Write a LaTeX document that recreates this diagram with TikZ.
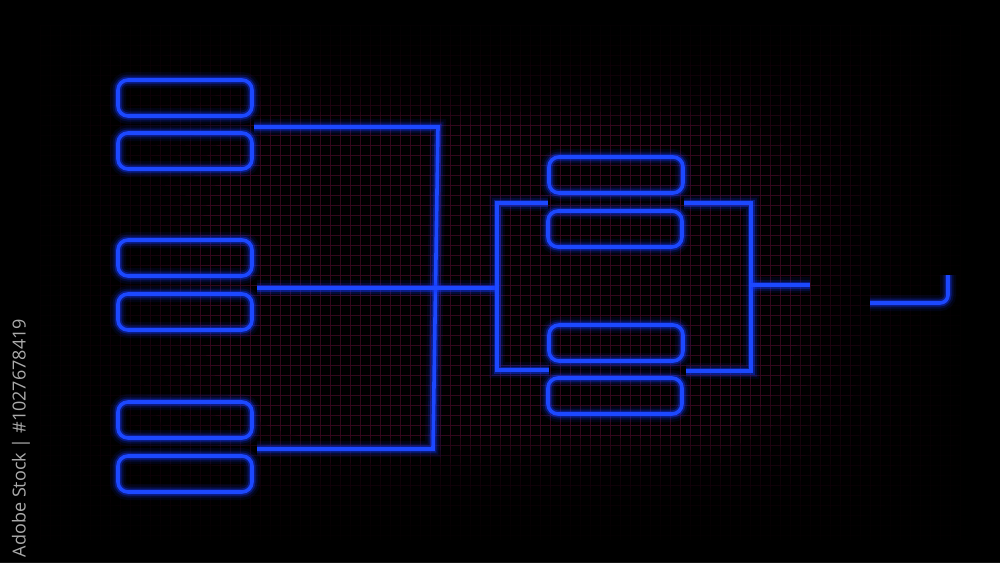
\documentclass[tikz,border=0pt]{standalone}
\usepackage{fontspec}
\newfontfamily\wmfont{Open Sans}
\definecolor{neon}{RGB}{20,55,255}
\definecolor{neoncore}{RGB}{28,72,255}
\definecolor{gridred}{RGB}{52,7,28}
\definecolor{wmgray}{RGB}{170,170,170}
\tikzset{
  glow/.style={
    preaction={draw=neon, line width=16pt, opacity=0.08},
    preaction={draw=neon, line width=11pt, opacity=0.16},
    preaction={draw=neon, line width=7pt, opacity=0.38}},
  wire/.style={glow, draw=neoncore, line width=3.6pt},
  slot/.style={glow, draw=neoncore, line width=3.6pt, rectangle, rounded corners=10pt,
    minimum width=134pt, minimum height=36pt, inner sep=0pt},
  gridline/.style={draw=gridred, line width=0.8pt},
  vignette/.style={fill=black, opacity=0.24, even odd rule}
}
\begin{document}
\begin{tikzpicture}[x=1pt,y=-1pt]
\useasboundingbox (0,0) rectangle (1000,562);
\fill[black] (0,0) rectangle (1000,562);
% grid
\foreach \gx in {40,50,...,960} {\draw[gridline] (\gx,25) -- (\gx,540);}
\foreach \gy in {25,35,...,540} {\draw[gridline] (40,\gy) -- (960,\gy);}
% vignette rings
\foreach \d in {40,60,...,200} {
  \fill[vignette] (-10,-10) rectangle (1010,572)
    [rounded corners=120pt] (\d,{0.62*\d}) rectangle ({1000-\d},{562-0.62*\d});
}

% left column slots
\node[slot] (L1) at (185,98) {};
\node[slot] (L2) at (185,151) {};
\node[slot] (L3) at (185,258) {};
\node[slot] (L4) at (185,312) {};
\node[slot] (L5) at (185,420) {};
\node[slot] (L6) at (185,474) {};
% middle column slots
\node[slot] (M1) at (616,175) {};
\node[slot] (M2) at (615,229) {};
\node[slot] (M3) at (616,343) {};
\node[slot] (M4) at (615,396) {};

% junction coordinates
\coordinate (a1) at (254,127);
\coordinate (a2) at (438,127);
\coordinate (a3) at (433,449);
\coordinate (a4) at (257,449);
\coordinate (b1) at (257,288);
\coordinate (b2) at (497,288);
\coordinate (c1) at (497,203);
\coordinate (c2) at (548,203);
\coordinate (c3) at (497,370);
\coordinate (c4) at (549,370);
\coordinate (d1) at (684,203);
\coordinate (d2) at (751,203);
\coordinate (d3) at (751,371);
\coordinate (d4) at (686,371);
\coordinate (e1) at (751,285);
\coordinate (e2) at (810,285);
\coordinate (f1) at (870,303);
\coordinate (f2) at (948,303);
\coordinate (f3) at (948,275);

% connectors
\draw[wire] (a1) -- (a2) -- (a3) -- (a4);
\draw[wire] (b1) -- (b2);
\draw[wire] (c2) -- (c1) -- (c3) -- (c4);
\draw[wire] (d1) -- (d2) -- (d3) -- (d4);
\draw[wire] (e1) -- (e2);
\draw[wire, rounded corners=8pt] (f1) -- (f2) -- (f3);

% vertical watermark label
\node[rotate=90, text=wmgray, font=\wmfont\fontsize{18}{18}\selectfont, inner sep=0pt] (wm) at (21,438) {Adobe Stock | \#1027678419};
\end{tikzpicture}
\end{document}
